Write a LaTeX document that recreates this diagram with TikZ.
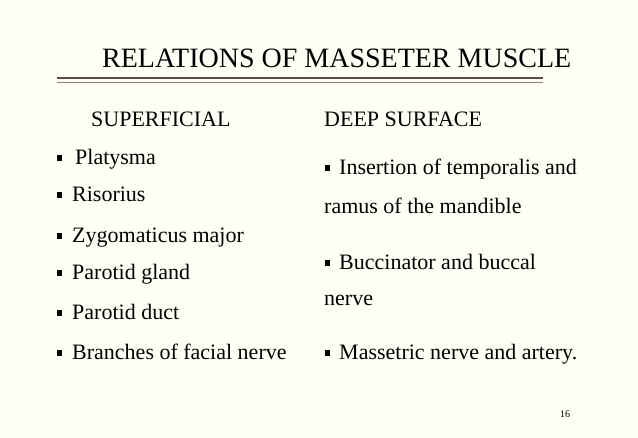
\documentclass[tikz,border=0pt]{standalone}
\usepackage{fontspec}
\setmainfont{Liberation Serif}
\definecolor{bg}{HTML}{FFFFF6}
\definecolor{rule}{HTML}{5A4A44}
\begin{document}
\begin{tikzpicture}[x=1pt,y=-1pt,
  txt/.style={anchor=base west,inner sep=0pt,font=\fontsize{22}{26}\selectfont},
  blt/.style={fill=black,minimum width=4.5pt,minimum height=6pt,inner sep=0pt}]
\fill[bg] (0,0) rectangle (638,438);
\useasboundingbox (0,0) rectangle (638,438);
\node[anchor=base west,inner sep=0pt,font=\fontsize{28}{32}\selectfont] (title) at (102,68) {RELATIONS OF MASSETER MUSCLE};
\draw[rule,line width=2.2pt] (57,78) -- (543,78);
\draw[rule!70,line width=0.8pt] (57,82.5) -- (543,82.5);
\node[txt] (sup) at (91,127) {SUPERFICIAL};
\node[txt] (deep) at (324,127) {DEEP SURFACE};
\foreach \n/\y/\t/\x in {a/165/Platysma/75, b/202/Risorius/72, c/243/Zygomaticus major/72, d/280/Parotid gland/72, e/320/Parotid duct/72, f/360/Branches of facial nerve/72}{
  \node[blt] (b\n) at (59.5,\y-7) {};
  \node[txt] (t\n) at (\x,\y) {\t};
}
\foreach \n/\y/\t in {g/175/Insertion of temporalis and, h/270/Buccinator and buccal, i/360/Massetric nerve and artery.}{
  \node[blt] (b\n) at (327.5,\y-7) {};
  \node[txt] (t\n) at (339,\y) {\t};
}
\node[txt] (ramus) at (324,214) {ramus of the mandible};
\node[txt] (nerve) at (324,306) {nerve};
\node[anchor=base west,inner sep=0pt,font=\fontsize{10}{11}\selectfont] (pg) at (560,418) {16};
\end{tikzpicture}
\end{document}
